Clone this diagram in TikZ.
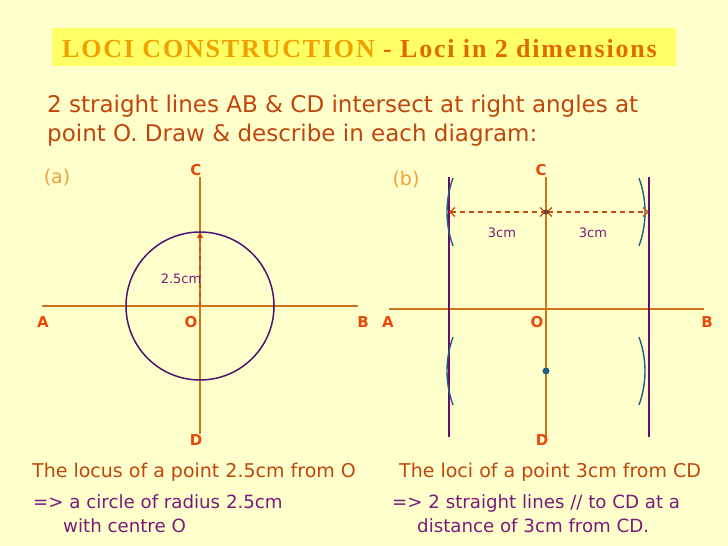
\documentclass[tikz,border=0pt]{standalone}
\usepackage{fontspec}
\setmainfont{DejaVu Sans}
\newfontfamily\titlefont[LetterSpace=7]{Liberation Serif}
\usetikzlibrary{arrows.meta}
\definecolor{paper}{HTML}{FFFFCC}
\definecolor{titlebar}{HTML}{FFFF66}
\definecolor{titleA}{HTML}{F0A000}
\definecolor{titleB}{HTML}{E06A00}
\definecolor{bodytext}{HTML}{C0450F}
\definecolor{answer}{HTML}{7A1A7A}
\definecolor{axisline}{HTML}{D0731A}
\definecolor{ptlabel}{HTML}{E8490A}
\definecolor{partlabel}{HTML}{EFA040}
\definecolor{locusline}{HTML}{6A0A70}
\definecolor{circleline}{HTML}{4E1273}
\definecolor{arcline}{HTML}{1F5F80}
\definecolor{measureline}{HTML}{C0500F}
\definecolor{centredot}{HTML}{6A4040}
\begin{document}
\begin{tikzpicture}[x=1pt, y=-1pt,
  axis/.style={draw=axisline, line width=1.1pt},
  locus/.style={draw=locusline, line width=2.2pt},
  arcmark/.style={draw=arcline, line width=1.4pt},
  measure/.style={draw=measureline, line width=1.3pt, dash pattern=on 5pt off 4pt},
  ptname/.style={font=\bfseries\fontsize{15}{15}\selectfont, text=ptlabel, inner sep=0pt},
  part/.style={font=\fontsize{19}{19}\selectfont, text=partlabel, inner sep=0pt},
  body/.style={font=\fontsize{23}{23}\selectfont, text=bodytext, inner sep=0pt, anchor=base west},
  caption/.style={font=\fontsize{19}{19}\selectfont, text=bodytext, inner sep=0pt, anchor=base west},
  answer/.style={font=\fontsize{18.2}{18.2}\selectfont, text=answer, inner sep=0pt, anchor=base west},
  size/.style={font=\fontsize{13}{13}\selectfont, text=answer, inner sep=0pt}
]
\fill[paper] (0,0) rectangle (728,546);
\useasboundingbox (0,0) rectangle (728,546);

% title
\node[fill=titlebar, minimum width=624, minimum height=38, anchor=north west, inner sep=0pt] (bar) at (52,28) {};
\node[anchor=base west, inner sep=0pt, font=\titlefont\bfseries\fontsize{26}{26}\selectfont] (title) at (62,57)
  {\textcolor{titleA}{LOCI CONSTRUCTION} \textcolor{titleB}{- Loci in 2 dimensions}};

% task
\node[body] (task1) at (47,112) {2 straight lines AB \& CD intersect at right angles at};
\node[body] (task2) at (47,141) {point O. Draw \& describe in each diagram:};

% (a) circle about O
\coordinate (Oa) at (200,306);
\coordinate (Aa) at (42,306);
\coordinate (Ba) at (358,306);
\coordinate (Ca) at (200,177);
\coordinate (Da) at (200,434);
\coordinate (Ra) at (200,232);
\draw[axis] (Aa) -- (Ba);
\draw[axis] (Ca) -- (Da);
\draw[draw=circleline, line width=1.5pt] (Oa) circle[radius=74];
\draw[measure, -{Triangle[length=6pt,width=6pt]}] (Oa) -- (Ra);

\node[part] (pa) at (57,178) {(a)};
\node[ptname] (la) at (43,322) {A};
\node[ptname] (lo) at (191,322) {O};
\node[ptname] (lb) at (363,322) {B};
\node[ptname] (lc) at (196,170) {C};
\node[ptname] (ld) at (196,440) {D};
\node[size] (ra) at (181,279) {2.5cm};

% (b) two lines parallel to CD
\coordinate (Ob) at (546,309);
\coordinate (Ab) at (389,309);
\coordinate (Bb) at (704,309);
\coordinate (Cb) at (546,177);
\coordinate (Db) at (546,437);
\coordinate (L1) at (449,177);
\coordinate (L2) at (449,437);
\coordinate (R1) at (649,177);
\coordinate (R2) at (649,437);
\coordinate (Pt) at (546,212);
\coordinate (Pb) at (546,371);
\coordinate (Lm) at (449,212);
\coordinate (Rm) at (649,212);
\draw[axis] (Ab) -- (Bb);
\draw[axis] (Cb) -- (Db);
\draw[locus] (L1) -- (L2);
\draw[locus] (R1) -- (R2);
\draw[arcmark] (Pt) ++(160:99) arc[start angle=160, end angle=200, radius=99];
\draw[arcmark] (Pt) ++(-20:99) arc[start angle=-20, end angle=20, radius=99];
\draw[arcmark] (Pb) ++(160:99) arc[start angle=160, end angle=200, radius=99];
\draw[arcmark] (Pb) ++(-20:99) arc[start angle=-20, end angle=20, radius=99];
\draw[measure, {Straight Barb[length=5pt,width=9pt]}-{Straight Barb[length=5pt,width=9pt]}] (Lm) -- (Pt);
\draw[measure, {Straight Barb[length=5pt,width=9pt]}-{Straight Barb[length=5pt,width=9pt]}] (Pt) -- (Rm);
\fill[centredot] (Pt) circle[radius=2.5];
\fill[arcline] (Pb) circle[radius=3.5];

\node[part] (pb) at (406,180) {(b)};
\node[ptname] (lab) at (388,322) {A};
\node[ptname] (lob) at (537,322) {O};
\node[ptname] (lbb) at (707,322) {B};
\node[ptname] (lcb) at (541,170) {C};
\node[ptname] (ldb) at (542,440) {D};
\node[size] (d1) at (502,233) {3cm};
\node[size] (d2) at (593,233) {3cm};

% answers
\node[caption] (locA) at (32,477) {The locus of a point 2.5cm from O};
\node[answer] (ansA1) at (33,508) {=> a circle of radius 2.5cm};
\node[answer] (ansA2) at (63,532) {with centre O};
\node[caption] (locB) at (399,477) {The loci of a point 3cm from CD};
\node[answer] (ansB1) at (392,508) {=> 2 straight lines // to CD at a};
\node[answer] (ansB2) at (417,532) {distance of 3cm from CD.};
\end{tikzpicture}
\end{document}
